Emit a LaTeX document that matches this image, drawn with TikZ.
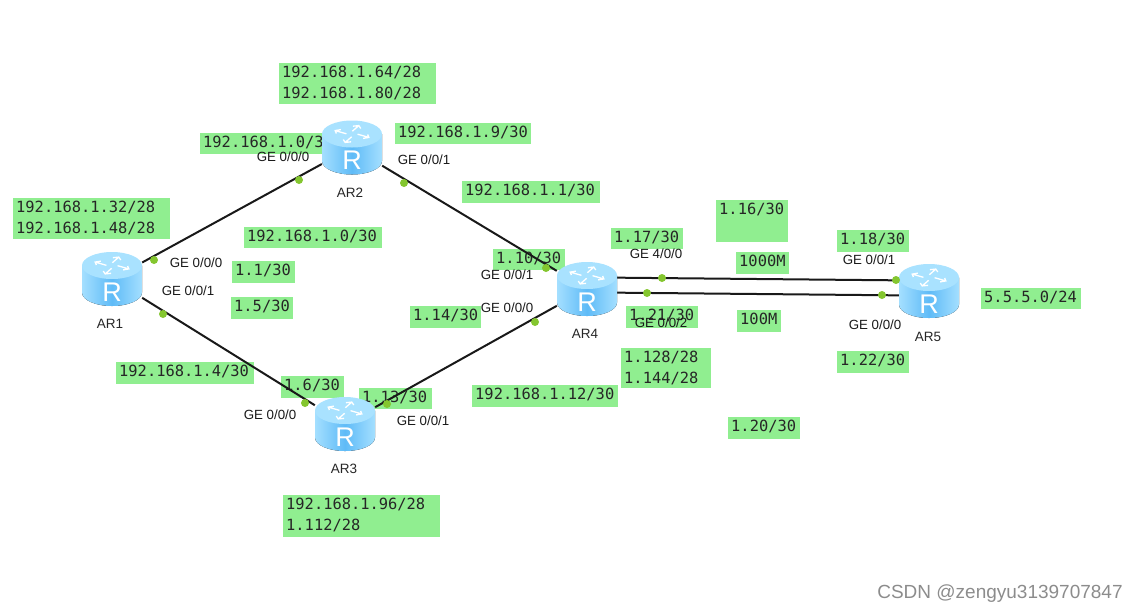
\documentclass[tikz,border=0pt]{standalone}
\usepackage{fontspec}
\setmainfont{Liberation Sans}
\setmonofont{DejaVu Sans Mono}
\usetikzlibrary{backgrounds}
\pgfdeclarelayer{boxes}
\pgfdeclarelayer{wires}
\pgfsetlayers{boxes,wires,main}
\definecolor{netgreen}{HTML}{90EE90}
\definecolor{dotgreen}{HTML}{84C62F}
\definecolor{routertop}{HTML}{A9E2FF}
\definecolor{routerside}{HTML}{A4DFFF}
\definecolor{routermid}{HTML}{5FBBF7}
\tikzset{nettext/.style={anchor=north west,font=\ttfamily\fontsize{15.4}{20.5}\selectfont,align=left,text=black!85,inner sep=0pt}}
\tikzset{ifname/.style={font=\fontsize{13.3}{15}\selectfont,text=black!90,inner sep=0pt}}
\tikzset{arname/.style={font=\fontsize{13.5}{15}\selectfont,text=black!85,inner sep=0pt}}
\tikzset{portdot/.style={circle,fill=dotgreen,minimum size=8pt,inner sep=0pt}}
\tikzset{wire/.style={line width=2pt,black!90}}
\tikzset{router/.style={minimum width=60pt,minimum height=54pt,inner sep=0pt,path picture={
    \begin{scope}[shift={(path picture bounding box.center)}]
        \fill[left color=routerside,right color=routerside,middle color=routermid]
            (-30,-13.5) -- (-30,13.5) arc[x radius=30,y radius=13.5,start angle=180,end angle=0] -- (30,-13.5) -- cycle;
        \fill[routertop] (0,-13.5) ellipse[x radius=30,y radius=13.5];
        % the four small arrows on the lid
        \draw[white,line width=1.3pt] (5.58,-13.33) -- (16.84,-10.08) (15.62,-13.03) -- (16.84,-10.08) -- (11.12,-9.13);
        \draw[white,line width=1.3pt] (-0.34,-10.71) -- (-6.84,-5.08) (-0.94,-5.69) -- (-6.84,-5.08) -- (-8.73,-7.94);
        \draw[white,line width=1.3pt] (-5.58,-13.67) -- (-16.84,-16.92) (-15.62,-13.97) -- (-16.84,-16.92) -- (-11.12,-17.87);
        \draw[white,line width=1.3pt] (0.34,-16.29) -- (6.84,-21.92) (0.94,-21.31) -- (6.84,-21.92) -- (8.73,-19.06);
        \node[white,inner sep=0pt,font=\fontsize{27}{27}\selectfont] at (0,13) {R};
    \end{scope}
}}}
% a box in picture pixels: corners, then the text
\newcommand{\netlabel}[6]{
    \begin{pgfonlayer}{boxes}
        \fill[netgreen] (#2,#3) rectangle (#4,#5);
        \node[nettext] (#1) at (#2+3,#3+3) {#6};
    \end{pgfonlayer}
}
\begin{document}
\begin{tikzpicture}[x=1pt,y=-1pt]
    \useasboundingbox (0,0) rectangle (1139,614);
    % routers
    \node[router] (ar1) at (112,279) {};
    \node[router] (ar2) at (352,147.5) {};
    \node[router] (ar3) at (345,424) {};
    \node[router] (ar4) at (587,289) {};
    \node[router] (ar5) at (929,291) {};
    \node[arname] (ar1name) at (110,324) {AR1};
    \node[arname] (ar2name) at (350,193) {AR2};
    \node[arname] (ar3name) at (344,469) {AR3};
    \node[arname] (ar4name) at (585,334) {AR4};
    \node[arname] (ar5name) at (928,337) {AR5};
    % links
    \coordinate (ar4up) at (600,277.5);
    \coordinate (ar4low) at (600,292.5);
    \coordinate (ar5up) at (915,280.5);
    \coordinate (ar5low) at (915,295.5);
    \begin{pgfonlayer}{wires}
        \draw[wire] (ar1) -- (ar2);
        \draw[wire] (ar1) -- (ar3);
        \draw[wire] (ar2) -- (ar4);
        \draw[wire] (ar3) -- (ar4);
        \draw[wire] (ar4up) -- (ar5up);
        \draw[wire] (ar4low) -- (ar5low);
    \end{pgfonlayer}
    % port dots
    \node[portdot] (ar1p0) at (154,260) {};
    \node[portdot] (ar1p1) at (163,314) {};
    \node[portdot] (ar2p0) at (299,180) {};
    \node[portdot] (ar2p1) at (404,183) {};
    \node[portdot] (ar3p0) at (305,403) {};
    \node[portdot] (ar3p1) at (387,404) {};
    \node[portdot] (ar4p1) at (546,268) {};
    \node[portdot] (ar4p0) at (535,322) {};
    \node[portdot] (ar4p4) at (662,278) {};
    \node[portdot] (ar4p2) at (647,293) {};
    \node[portdot] (ar5p1) at (896,280) {};
    \node[portdot] (ar5p0) at (882,295) {};
    % interface names
    \node[ifname] (ar1ge0) at (196,263) {GE 0/0/0};
    \node[ifname] (ar1ge1) at (188,291) {GE 0/0/1};
    \node[ifname] (ar2ge0) at (283,157) {GE 0/0/0};
    \node[ifname] (ar2ge1) at (424,160) {GE 0/0/1};
    \node[ifname] (ar3ge0) at (270,415) {GE 0/0/0};
    \node[ifname] (ar3ge1) at (423,421) {GE 0/0/1};
    \node[ifname] (ar4ge1) at (507,275) {GE 0/0/1};
    \node[ifname] (ar4ge0) at (507,308) {GE 0/0/0};
    \node[ifname] (ar4ge4) at (656,254) {GE 4/0/0};
    \node[ifname] (ar4ge2) at (661,323) {GE 0/0/2};
    \node[ifname] (ar5ge1) at (869,260) {GE 0/0/1};
    \node[ifname] (ar5ge0) at (875,325) {GE 0/0/0};
    % address boxes
    \netlabel{n64}{279}{63}{436}{104}{192.168.1.64/28\\192.168.1.80/28}
    \netlabel{n0a}{200}{133}{337}{154}{192.168.1.0/30}
    \netlabel{n9}{395}{123}{531}{144}{192.168.1.9/30}
    \netlabel{n1}{462}{181}{600}{203}{192.168.1.1/30}
    \netlabel{n32}{13}{198}{170}{239}{192.168.1.32/28\\192.168.1.48/28}
    \netlabel{n0b}{244}{227}{382}{248}{192.168.1.0/30}
    \netlabel{s1}{232}{261}{295}{283}{1.1/30}
    \netlabel{s5}{231}{297}{293}{319}{1.5/30}
    \netlabel{s14}{410}{306}{481}{328}{1.14/30}
    \netlabel{s10}{493}{249}{565}{270}{1.10/30}
    \netlabel{s17}{611}{228}{683}{249}{1.17/30}
    \netlabel{s16}{716}{200}{788}{242}{1.16/30}
    \netlabel{bw1}{736}{252}{789}{274}{1000M}
    \netlabel{s18}{837}{230}{909}{252}{1.18/30}
    \netlabel{n555}{981}{288}{1081}{309}{5.5.5.0/24}
    \netlabel{bw2}{737}{310}{781}{332}{100M}
    \netlabel{s22}{837}{351}{909}{373}{1.22/30}
    \netlabel{s20}{728}{417}{800}{439}{1.20/30}
    \netlabel{s21}{626}{306}{698}{328}{1.21/30}
    \netlabel{s128}{621}{348}{711}{388}{1.128/28\\1.144/28}
    \netlabel{n12}{472}{385}{618}{407}{192.168.1.12/30}
    \netlabel{n4}{116}{362}{254}{384}{192.168.1.4/30}
    \netlabel{s6}{281}{376}{344}{398}{1.6/30}
    \netlabel{s13}{359}{388}{432}{409}{1.13/30}
    \netlabel{n96}{283}{495}{440}{537}{192.168.1.96/28\\1.112/28}
    % watermark
    \node[text=black!45,font=\fontsize{19}{21}\selectfont,inner sep=0pt] (mark) at (1000,594) {CSDN @zengyu3139707847};
\end{tikzpicture}
\end{document}
